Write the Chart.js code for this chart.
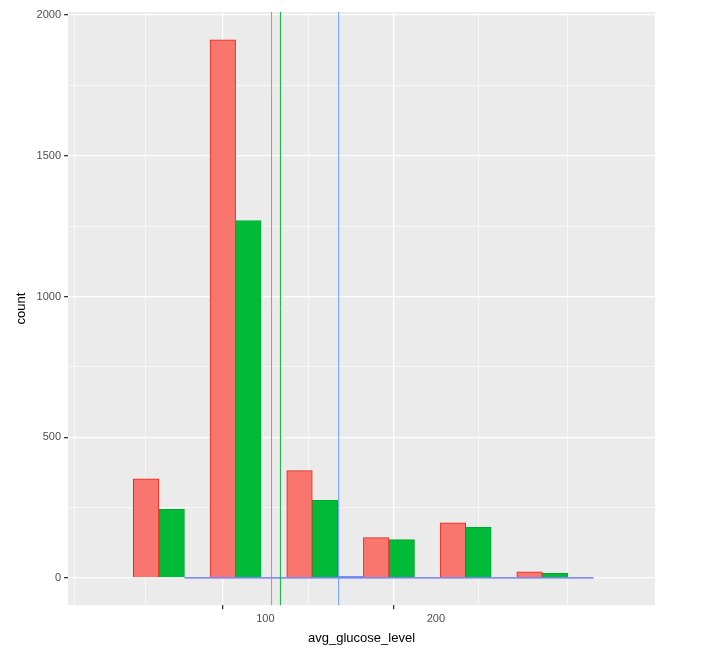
<!DOCTYPE html>
<html><head><meta charset="utf-8">
<script src="https://cdn.jsdelivr.net/npm/chart.js@4"></script>
<style>body{margin:0;background:#fff}#w{width:718px;height:664px}</style>
</head><body><div id="w"><canvas id="c"></canvas></div>
<script>
const binCenters=[45,90,135,180,225,270];
const binWidth=45;
const redCounts=[352,1912,381,143,196,22];
const greenCounts=[244,1270,276,136,180,16];
const blueCounts=[0,0,5,0,0,0];
const meanLines=[{v:103.6,c:'#F8766D'},{v:108.8,c:'#00BA38'},{v:143.0,c:'#619CFF'}];
const sub=binWidth/3;
const pts=(arr,k)=>arr.map((y,i)=>({x:binCenters[i]-binWidth/2+sub*(k+0.5),y}));
const blueBase=[];
blueCounts.forEach((y,i)=>{const l=binCenters[i]-binWidth/2+sub*2;blueBase.push({x:l,y:0},{x:l+sub,y:0});});
const bg={id:'bg',beforeDraw(ch){const a=ch.chartArea,x=ch.ctx;x.save();x.fillStyle='#EBEBEB';x.fillRect(a.left,a.top,a.right-a.left,a.bottom-a.top);x.restore();},
afterDatasetsDraw(ch){const a=ch.chartArea,x=ch.ctx,s=ch.scales.x;x.save();meanLines.forEach(m=>{const p=s.getPixelForValue(m.v);x.strokeStyle=m.c;x.lineWidth=1;x.beginPath();x.moveTo(p,a.top);x.lineTo(p,a.bottom);x.stroke();});x.restore();}};
const bar=(data,f,b)=>({type:'bar',data,backgroundColor:f,borderColor:b,borderWidth:1,barPercentage:1,categoryPercentage:1,grouped:false,order:2});
new Chart(document.getElementById('c'),{
data:{datasets:[
bar(pts(redCounts,0),'#F8766D','#E8261C'),
bar(pts(greenCounts,1),'#00BA38','#00A832'),
bar(pts(blueCounts,2),'#619CFF','#3344EE'),
{type:'line',data:blueBase,borderColor:'#3344EE',borderWidth:1,pointRadius:0,fill:false,order:1,spanGaps:true}
]},
options:{responsive:true,maintainAspectRatio:false,animation:false,
layout:{padding:{left:10,right:63,top:12,bottom:14}},
plugins:{legend:{display:false},tooltip:{enabled:false}},
scales:{
x:{type:'linear',min:8.8,max:304,border:{display:false},
ticks:{stepSize:50,autoSkip:false,color:'#4d4d4d',font:{size:11},callback:v=>v%100===0?v:'',maxRotation:0},
grid:{color:'#fff',lineWidth:c=>c.tick&&c.tick.value%100===0?1.3:0.6,tickLength:4,tickColor:c=>c.tick&&c.tick.value%100===0?'#333':'rgba(0,0,0,0)'},
title:{display:true,text:'avg_glucose_level',color:'#000',font:{size:13},padding:{top:2}}},
y:{min:-97,max:2011,border:{display:false},
ticks:{stepSize:250,autoSkip:false,color:'#4d4d4d',font:{size:11},callback:v=>v%500===0?v:''},
afterBuildTicks:s=>{s.ticks=[];for(let v=0;v<=2000;v+=250)s.ticks.push({value:v});},
grid:{color:'#fff',lineWidth:c=>c.tick&&c.tick.value%500===0?1.3:0.6,tickLength:4,tickColor:c=>c.tick&&c.tick.value%500===0?'#333':'rgba(0,0,0,0)'},
title:{display:true,text:'count',color:'#000',font:{size:13}}}
}},plugins:[bg]});
</script></body></html>
